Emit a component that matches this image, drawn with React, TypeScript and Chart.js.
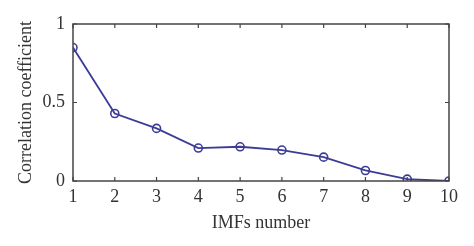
import React, { useEffect, useRef } from "react";
import { Chart, registerables } from "chart.js";

Chart.register(...registerables);

const imfNumbers = [1, 2, 3, 4, 5, 6, 7, 8, 9, 10];
const correlation = [0.85, 0.43, 0.335, 0.21, 0.218, 0.197, 0.152, 0.067, 0.012, 0.0];
const xTicks = [1, 2, 3, 4, 5, 6, 7, 8, 9, 10];
const yTicks = [0, 0.5, 1];

const FONT = "'Liberation Serif', 'Times New Roman', serif";

const framePlugin = {
  id: "frame",
  afterDraw(chart: any) {
    const { ctx, chartArea } = chart;
    const { left, right, top, bottom } = chartArea;
    const xs = chart.scales.x;
    const ys = chart.scales.y;
    ctx.save();
    ctx.strokeStyle = "#444";
    ctx.lineWidth = 1.5;
    ctx.strokeRect(left, top, right - left, bottom - top);
    ctx.lineWidth = 1.2;
    const tl = 4;
    ctx.beginPath();
    xTicks.forEach((v) => {
      const px = xs.getPixelForValue(v);
      ctx.moveTo(px, bottom);
      ctx.lineTo(px, bottom - tl);
      ctx.moveTo(px, top);
      ctx.lineTo(px, top + tl);
    });
    yTicks.forEach((v) => {
      const py = ys.getPixelForValue(v);
      ctx.moveTo(left, py);
      ctx.lineTo(left + tl, py);
      ctx.moveTo(right, py);
      ctx.lineTo(right - tl, py);
    });
    ctx.stroke();
    ctx.restore();
  },
};

export default function App() {
  const ref = useRef<HTMLCanvasElement>(null);
  useEffect(() => {
    document.body.style.margin = "0";
    const chart = new Chart(ref.current!, {
      type: "line",
      data: {
        datasets: [
          {
            data: imfNumbers.map((x, i) => ({ x, y: correlation[i] })),
            borderColor: "#3c3c98",
            backgroundColor: "rgba(255,255,255,0)",
            borderWidth: 1.8,
            pointRadius: 4,
            pointBorderWidth: 1.6,
            pointBorderColor: "#3c3c98",
            pointBackgroundColor: "rgba(255,255,255,0)",
            tension: 0,
          },
        ],
      },
      options: {
        animation: false,
        responsive: false,
        maintainAspectRatio: false,
        layout: { padding: { left: 0, right: 25, top: 24, bottom: 0 } },
        plugins: { legend: { display: false }, tooltip: { enabled: false } },
        scales: {
          x: {
            type: "linear",
            min: 1,
            max: 10,
            afterFit: (s: any) => {
              s.height = 65;
            },
            afterBuildTicks: (s: any) => {
              s.ticks = xTicks.map((v) => ({ value: v }));
            },
            grid: { display: false, drawTicks: false, tickLength: 0 },
            border: { display: false },
            ticks: {
              color: "#333",
              font: { family: FONT, size: 18 },
              padding: 5,
              maxRotation: 0,
            },
            title: {
              display: true,
              text: "IMFs number",
              color: "#333",
              font: { family: FONT, size: 18 },
              padding: { top: 0, bottom: 12 },
            },
          },
          y: {
            type: "linear",
            min: 0,
            max: 1,
            afterFit: (s: any) => {
              s.width = 73;
            },
            afterBuildTicks: (s: any) => {
              s.ticks = yTicks.map((v) => ({ value: v }));
            },
            grid: { display: false, drawTicks: false, tickLength: 0 },
            border: { display: false },
            ticks: {
              color: "#333",
              font: { family: FONT, size: 18 },
              padding: 8,
              callback: (v: any) => String(v),
            },
            title: {
              display: true,
              text: "Correlation coefficient",
              color: "#333",
              font: { family: FONT, size: 18 },
              padding: { top: 15, bottom: 0 },
            },
          },
        },
      },
      plugins: [framePlugin],
    });
    return () => chart.destroy();
  }, []);
  return (
    <div style={{ position: "fixed", left: 0, top: 0, width: 474, height: 246, background: "#fff" }}>
      <canvas ref={ref} width={474} height={246} style={{ width: 474, height: 246 }} />
    </div>
  );
}
